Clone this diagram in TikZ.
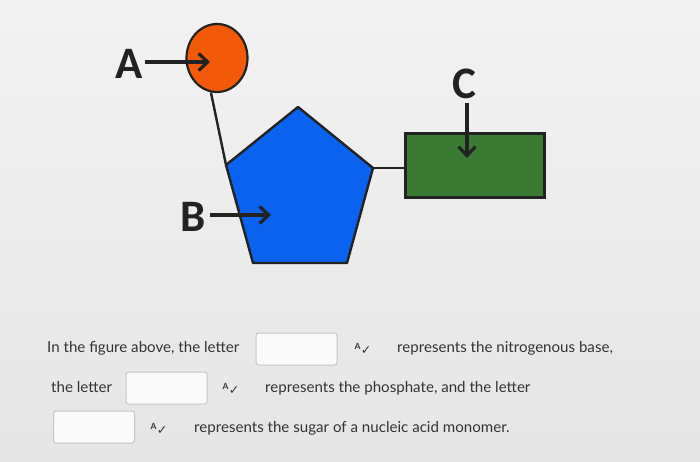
\documentclass[tikz,border=0pt]{standalone}
\usepackage{fontspec}
\setmainfont{Lato}
\newfontfamily\letterfont{Carlito}
\newfontfamily\symfont{DejaVu Sans}
\usepackage{xcolor}
\definecolor{colorPhosphate}{HTML}{F25A0A}
\definecolor{colorSugar}{HTML}{0A62EE}
\definecolor{colorBase}{HTML}{3B7A32}
\definecolor{colorInk}{HTML}{222222}
\definecolor{colorText}{HTML}{333333}
\usetikzlibrary{arrows.meta, positioning, shapes.geometric}
\newcommand{\spellicon}{\raisebox{2pt}{\fontsize{8.5}{8.5}\selectfont\bfseries A}\kern0.2pt\raisebox{-3pt}{\symfont\fontsize{12.5}{12.5}\selectfont ✓}}

\begin{document}
\begin{tikzpicture}[x=1pt, y=-1pt, >={Straight Barb[length=9pt,width=17pt,line width=3.2pt]},
  letter/.style={font=\letterfont\bfseries\fontsize{45}{45}\selectfont, text=colorInk, inner sep=0pt},
  pointer/.style={->, line width=3.2pt, colorInk},
  bond/.style={line width=2.4pt, colorInk},
  answerbox/.style={draw=gray!45, fill=white!96!gray, line width=1pt, rounded corners=2.5pt, minimum width=81pt, minimum height=32pt},
  question/.style={font=\fontsize{15.1}{15.1}\selectfont, text=colorText, inner sep=0pt, anchor=base west},
  spell/.style={text=colorText, inner sep=0pt}]
\useasboundingbox[top color=white!95!black, bottom color=white!90!black] (0,0) rectangle (700,462);
\node[ellipse, draw=colorInk, line width=2.2pt, fill=colorPhosphate, minimum width=61pt, minimum height=68pt] (phos) at (217,58) {};
\coordinate (sTop) at (298,107);
\coordinate (sLeft) at (226,165);
\coordinate (sRight) at (373,168);
\coordinate (sBotRight) at (347,263);
\coordinate (sBotLeft) at (253,263);
\draw[bond, fill=colorSugar, line join=round] (sTop) -- (sRight) -- (sBotRight) -- (sBotLeft) -- (sLeft) -- cycle;
\node[rectangle, draw=colorInk, line width=2.6pt, fill=colorBase, minimum width=139pt, minimum height=64pt] (base) at (475,165.5) {};
\draw[bond] (phos.-100) -- (sLeft);
\draw[bond] (sRight) -- (base.west |- sRight);
\node[letter] (labA) at (129,64) {A};
\node[letter] (labB) at (193,217) {B};
\node[letter] (labC) at (464,84) {C};
\coordinate (tipA) at (210,62);
\coordinate (tipB) at (271,215);
\coordinate (tipC) at (467,158);
\draw[pointer] (labA.east |- tipA) ++(2,0) -- (tipA);
\draw[pointer] (labB.east |- tipB) ++(4,0) -- (tipB);
\draw[pointer] (tipC |- labC.south) ++(0,4) -- (tipC);
\node[question] (txt1) at (47,352) {In the figure above, the letter};
\node[answerbox] (box1) at (296.5,349) {};
\node[spell] (icon1) at (363,349) {\spellicon};
\node[question] (txt2) at (397,352) {represents the nitrogenous base,};
\node[question] (txt3) at (51,392) {the letter};
\node[answerbox] (box2) at (166.5,388) {};
\node[spell] (icon2) at (231,389) {\spellicon};
\node[question] (txt4) at (265,392) {represents the phosphate, and the letter};
\node[answerbox] (box3) at (94,427) {};
\node[spell] (icon3) at (159,428.5) {\spellicon};
\node[question] (txt5) at (194,432) {represents the sugar of a nucleic acid monomer.};
\end{tikzpicture}
\end{document}
